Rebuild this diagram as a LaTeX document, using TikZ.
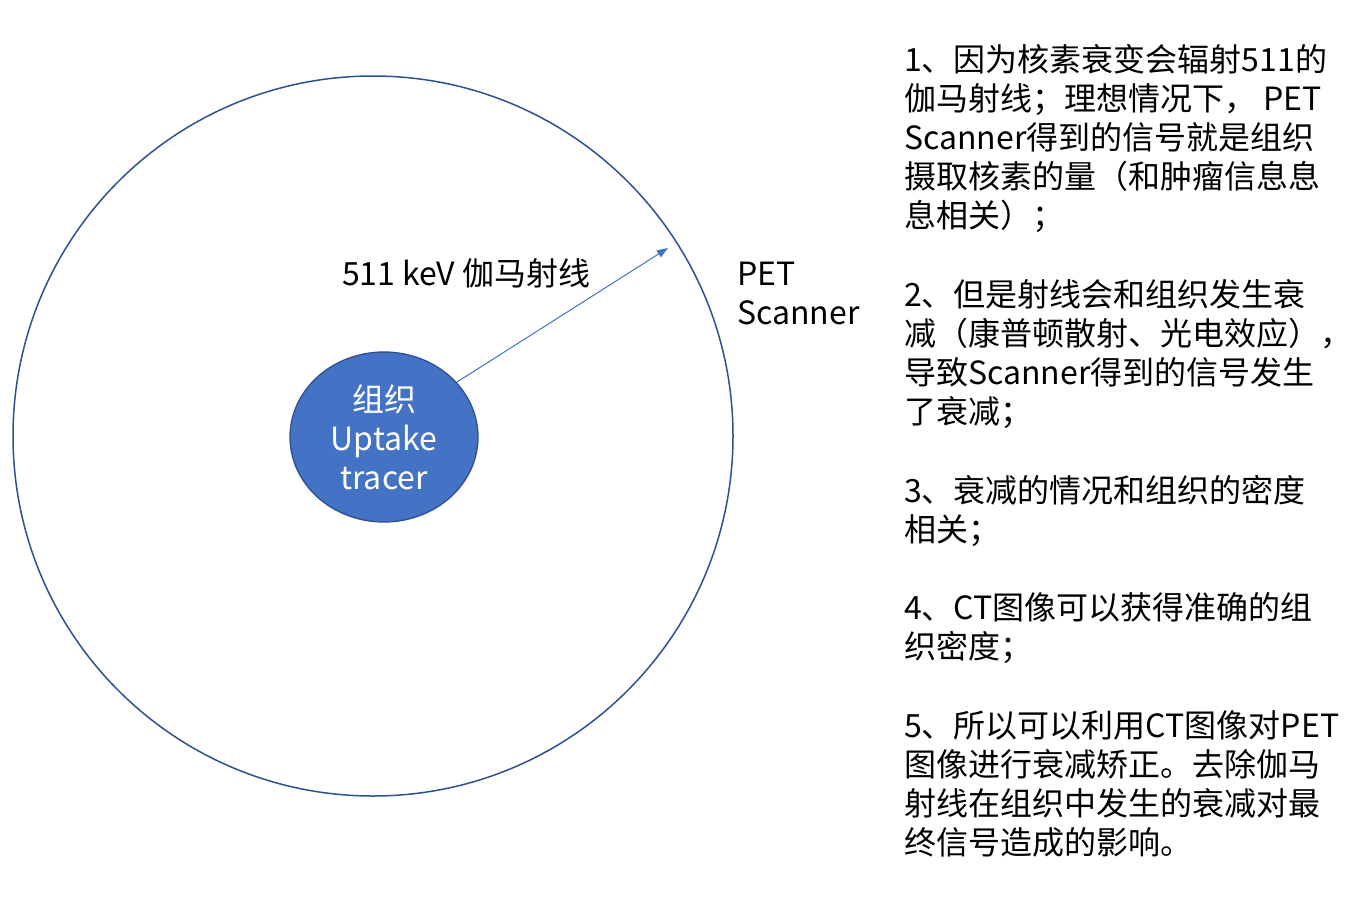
\documentclass[tikz,border=0pt]{standalone}
\usepackage{fontspec}
\setmainfont{Noto Sans CJK SC}
\usetikzlibrary{shapes.geometric,arrows.meta}
\definecolor{accent}{HTML}{4472C4}
\definecolor{edgeblue}{HTML}{2F528F}
\begin{document}
\begin{tikzpicture}[x=1pt,y=-1pt,
  txt/.style={anchor=base west,inner sep=0pt,font=\fontsize{32}{39}\selectfont},
  ray/.style={draw=accent,line width=1pt,-{Triangle[length=11pt,width=8pt]}}]
\useasboundingbox (0,0) rectangle (1370,905);
\fill[white] (0,0) rectangle (1370,905);
% scanner ring
\node[circle,draw=edgeblue,line width=1.5pt,minimum size=720pt,inner sep=0pt] (scanner) at (373,436) {};
% tissue
\node[ellipse,draw=edgeblue,line width=1.3pt,fill=accent,minimum width=188pt,minimum height=170pt,
      inner sep=0pt,text=white,align=center,font=\fontsize{32}{39}\selectfont] (tissue) at (384,437)
      {组织\\Uptake\\tracer};
\coordinate (tip) at (668,248);
\draw[ray] (tissue.37) -- (tip);
% labels
\node[txt] (raylabel) at (342,285) {511 keV 伽马射线};
\node[txt] (petA) at (737,285) {PET};
\node[txt] (petB) at (737,324) {Scanner};
% notes
\node[txt] (n1a) at (904,71)  {1、因为核素衰变会辐射511的};
\node[txt] (n1b) at (904,110) {伽马射线；理想情况下， PET};
\node[txt] (n1c) at (904,149) {Scanner得到的信号就是组织};
\node[txt] (n1d) at (904,188) {摄取核素的量（和肿瘤信息息};
\node[txt] (n1e) at (904,227) {息相关）；};
\node[txt] (n2a) at (904,306) {2、但是射线会和组织发生衰};
\node[txt] (n2b) at (904,345) {减（康普顿散射、光电效应），};
\node[txt] (n2c) at (904,384) {导致Scanner得到的信号发生};
\node[txt] (n2d) at (904,423) {了衰减；};
\node[txt] (n3a) at (904,502) {3、衰减的情况和组织的密度};
\node[txt] (n3b) at (904,541) {相关；};
\node[txt] (n4a) at (904,619) {4、CT图像可以获得准确的组};
\node[txt] (n4b) at (904,658) {织密度；};
\node[txt] (n5a) at (904,737) {5、所以可以利用CT图像对PET};
\node[txt] (n5b) at (904,776) {图像进行衰减矫正。去除伽马};
\node[txt] (n5c) at (904,815) {射线在组织中发生的衰减对最};
\node[txt] (n5d) at (904,854) {终信号造成的影响。};
\end{tikzpicture}
\end{document}
